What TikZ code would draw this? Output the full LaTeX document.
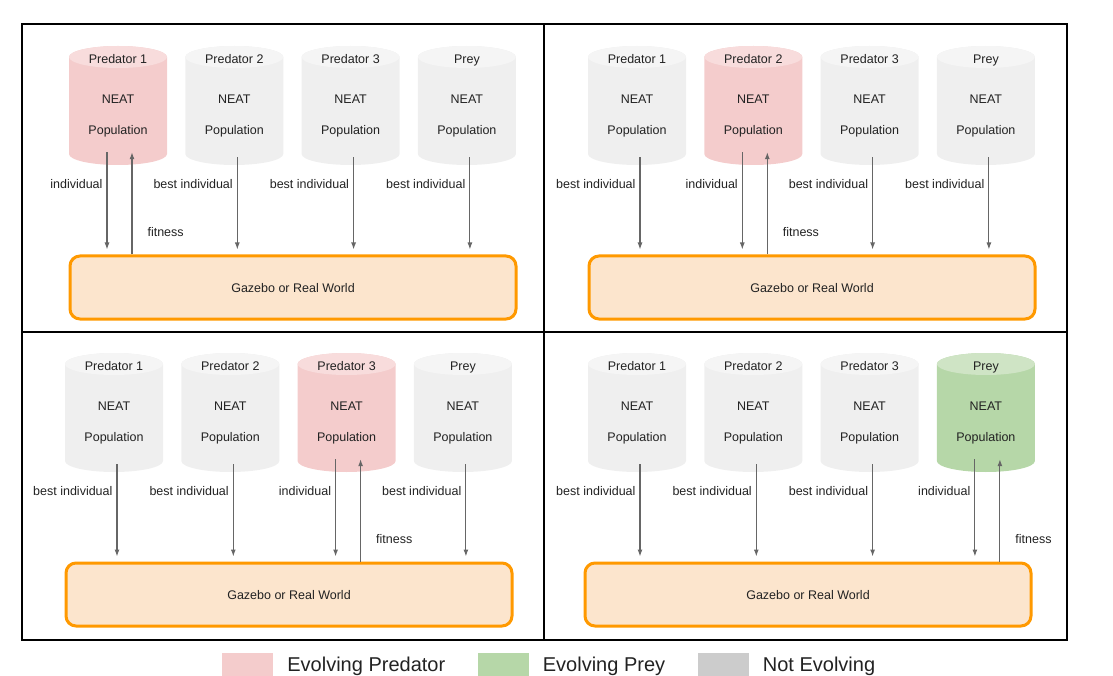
\documentclass[tikz,border=0pt]{standalone}
\usepackage{fontspec}
\setmainfont{Liberation Sans}
\usetikzlibrary{arrows.meta,positioning}

\definecolor{predfill}{HTML}{F4CCCC}
\definecolor{predtop}{HTML}{F8DCDC}
\definecolor{preyfill}{HTML}{B6D7A8}
\definecolor{preytop}{HTML}{CFE4C5}
\definecolor{idlefill}{HTML}{EFEFEF}
\definecolor{idletop}{HTML}{F5F5F5}
\definecolor{legendgray}{HTML}{CCCCCC}
\definecolor{worldfill}{HTML}{FCE5CD}
\definecolor{worldline}{HTML}{FF9900}
\definecolor{arrowgray}{HTML}{666666}
\definecolor{txtgray}{HTML}{222222}

\tikzset{
  popbody/.style={fill=idlefill},
  poptop/.style={fill=idletop},
  pop/.style={minimum width=98pt, minimum height=119pt, inner sep=0pt,
    path picture={
      \path[popbody] ([yshift=-11pt]path picture bounding box.north west)
        -- ([yshift=11pt]path picture bounding box.south west)
        arc[start angle=180, end angle=360, x radius=49pt, y radius=11pt]
        -- ([yshift=-11pt]path picture bounding box.north east)
        arc[start angle=0, end angle=180, x radius=49pt, y radius=11pt] -- cycle;
      \path[poptop] ([yshift=-11pt]path picture bounding box.north)
        ellipse[x radius=49pt, y radius=11pt];
    }},
  idle/.style={pop},
  pred/.style={pop, popbody/.style={fill=predfill}, poptop/.style={fill=predtop}},
  prey/.style={pop, popbody/.style={fill=preyfill}, poptop/.style={fill=preytop}},
  lbl/.style={font=\fontsize{12.5}{15}\selectfont, text=txtgray, inner sep=0pt,
    text height=9pt, text depth=0pt},
  world/.style={lbl, draw=worldline, fill=worldfill, line width=3pt,
    rounded corners=10pt, minimum width=446pt, minimum height=63pt},
  flow/.style={draw=arrowgray, line width=1.1pt, -{Latex[length=7pt,width=5pt]}},
  swatch/.style={minimum width=51pt, minimum height=23pt, inner sep=0pt},
  legendtxt/.style={font=\fontsize{20}{24}\selectfont, text=txtgray, inner sep=0pt,
    text height=14.4pt, text depth=0pt}
}

\begin{document}
\begin{tikzpicture}[x=1pt, y=-1pt]
  \useasboundingbox (0,0) rectangle (1113,676);

  % frame of the four panels
  \draw[line width=2pt] (22,24) rectangle (1067,640);
  \draw[line width=2pt] (544,24) -- (544,640);
  \draw[line width=2pt] (22,332) -- (1067,332);

  % one panel for each evolving population
  \foreach \p/\ox/\oy/\wx/\evo in {1/118/46/293/pred, 2/637/46/812/pred,
                                   3/114/353/289/pred, 4/637/353/808/prey} {
    \node[world] (world\p) at (\wx, \oy+241.5) {Gazebo or Real World};
    \foreach \i/\who in {1/Predator 1, 2/Predator 2, 3/Predator 3, 4/Prey} {
      \ifnum\i=\p
        \node[\evo] (pop\p\i) at ({\ox+116.3*(\i-1)}, \oy+59.5) {};
      \else
        \node[idle] (pop\p\i) at ({\ox+116.3*(\i-1)}, \oy+59.5) {};
      \fi
      \node[lbl] (title\p\i) at ([yshift=-13pt]pop\p\i.north) {\who};
      \node[lbl] (neat\p\i) at ([yshift=-53pt]pop\p\i.north) {NEAT};
      \node[lbl] (size\p\i) at ([yshift=-84pt]pop\p\i.north) {Population};
      \ifnum\i=\p
        \draw[flow, shorten >=5pt] ([xshift=-11pt,yshift=13pt]pop\p\i.south)
          -- ([xshift=-11pt]pop\p\i.south |- world\p.north)
          node[lbl, pos=0.31, left=4pt] {individual};
        \draw[flow] ([xshift=14pt]pop\p\i.south |- world\p.north)
          -- ([xshift=14pt,yshift=13pt]pop\p\i.south)
          node[lbl, pos=0.22, right=15pt] {fitness};
      \else
        \draw[flow, shorten >=5pt] ([xshift=3pt,yshift=8pt]pop\p\i.south)
          -- ([xshift=3pt]pop\p\i.south |- world\p.north)
          node[lbl, pos=0.28, left=4pt] {best individual};
      \fi
    }
  }

  % legend
  \node[swatch, fill=predfill] (keypred) at (247.5,664.5) {};
  \node[legendtxt, right=14pt of keypred] (keypredtxt) {Evolving Predator};
  \node[swatch, fill=preyfill] (keyprey) at (503,664.5) {};
  \node[legendtxt, right=14pt of keyprey] (keypreytxt) {Evolving Prey};
  \node[swatch, fill=legendgray] (keyidle) at (723,664.5) {};
  \node[legendtxt, right=14pt of keyidle] (keyidletxt) {Not Evolving};
\end{tikzpicture}
\end{document}
